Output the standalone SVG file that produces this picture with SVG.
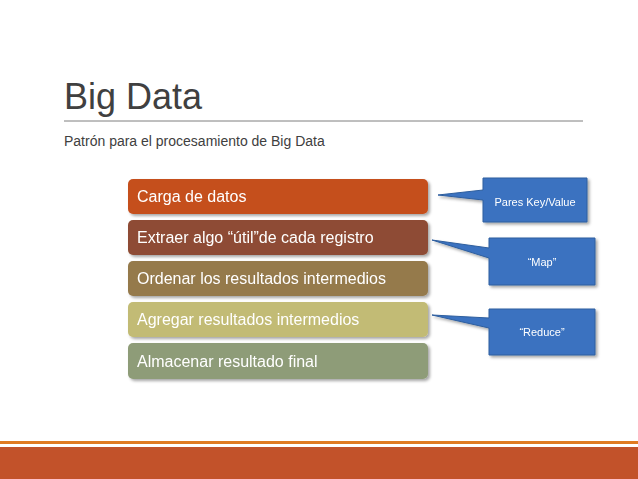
<svg xmlns="http://www.w3.org/2000/svg" width="638" height="479" viewBox="0 0 638 479">
<style>
text{font-family:"Liberation Sans","Noto Sans",sans-serif}
.bt{fill:#fff;font-size:16px}
.ct{fill:#fff;font-size:11px;text-anchor:middle}
.call{fill:#3a72c0;stroke:#2e5e9e;stroke-width:1}
</style>
<defs>
<filter id="sh" x="-5%" y="-10%" width="115%" height="130%"><feDropShadow dx="2" dy="2" stdDeviation="1.5" flood-color="#000" flood-opacity="0.35"/></filter>
</defs>
<rect width="638" height="479" fill="#fff"/>
<text x="64" y="109" font-size="36" fill="#404040">Big Data</text>
<line x1="64" y1="121" x2="583" y2="121" stroke="#7f7f7f" stroke-width="1"/>
<text x="64" y="146" font-size="14" fill="#404040">Patrón para el procesamiento de Big Data</text>
<g id="n1" filter="url(#sh)"><rect x="128" y="179" width="300" height="35" rx="5" fill="#c5501e"/><text class="bt" x="137" y="202">Carga de datos</text></g>
<g id="n2" filter="url(#sh)"><rect x="128" y="220" width="300" height="35" rx="5" fill="#8e4c34"/><text class="bt" x="137" y="243">Extraer algo “útil”de cada registro</text></g>
<g id="n3" filter="url(#sh)"><rect x="128" y="261" width="300" height="35" rx="5" fill="#957a4c"/><text class="bt" x="137" y="284">Ordenar los resultados intermedios</text></g>
<g id="n4" filter="url(#sh)"><rect x="128" y="302" width="300" height="35" rx="5" fill="#c2bb74"/><text class="bt" x="137" y="325">Agregar resultados intermedios</text></g>
<g id="n5" filter="url(#sh)"><rect x="128" y="343" width="300" height="36" rx="5" fill="#8e9c78"/><text class="bt" x="137" y="367">Almacenar resultado final</text></g>
<g id="c1" filter="url(#sh)"><path class="call" d="M483,178 H587 V222 H483 V200 L438,195 L483,190 Z"/><text class="ct" x="535" y="206">Pares Key/Value</text></g>
<g id="c2" filter="url(#sh)"><path class="call" d="M489,238 H595 V285 H489 V258 L432,240 L489,248 Z"/><text class="ct" x="542" y="266">“Map”</text></g>
<g id="c3" filter="url(#sh)"><path class="call" d="M489,309 H595 V355 H489 V328 L432,315 L489,318 Z"/><text class="ct" x="542" y="336">“Reduce”</text></g>
<g id="connectors"></g>
<rect x="0" y="441" width="638" height="3" fill="#e07b22"/>
<rect x="0" y="447" width="638" height="32" fill="#c2522a"/>
</svg>
